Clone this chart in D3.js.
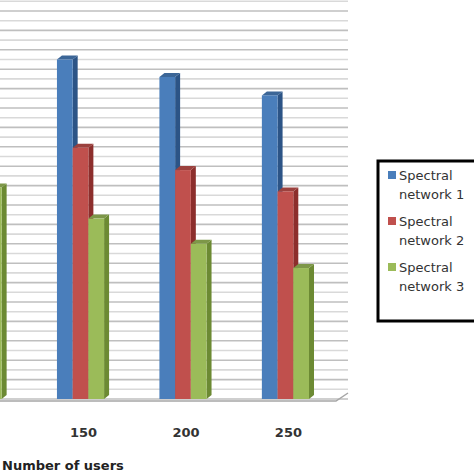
<!DOCTYPE html>
<html><head><meta charset="utf-8">
<script src="https://cdn.jsdelivr.net/npm/d3@7"></script>
<style>body{margin:0;background:#fff}svg{display:block}</style>
</head><body>
<script>
var users = ["100", "150", "200", "250"];
var seriesNames = ["Spectral network 1", "Spectral network 2", "Spectral network 3"];
var blue = [37.0, 35.0, 33.2, 31.3];
var red = [28.0, 25.9, 23.6, 21.4];
var green = [21.8, 18.6, 16.0, 13.5];
var colors = ["#4a7ebb", "#c0504d", "#9bbb59"];
var sides = ["#2c5486", "#8c2e2c", "#6c8a33"];

var svg = d3.select("body").append("svg").attr("width", 474).attr("height", 474);

var base = 399, depth = 5;
var y = d3.scaleLinear().domain([0, 41]).range([base, base - 41 * 9.7]);
var x = d3.scaleBand().domain(users).range([-45.5, 309]).paddingInner(0.54).paddingOuter(0);
var xs = d3.scaleBand().domain([0, 1, 2]).range([0, x.bandwidth()]);

// grid
svg.append("g").selectAll("line").data(d3.range(0, 42)).enter().append("line")
  .attr("x1", 0).attr("x2", 348)
  .attr("y1", function(d){return y(d)}).attr("y2", function(d){return y(d)})
  .attr("stroke", function(d){return d % 2 ? "#d9d9d9" : "#bfbfbf"}).attr("stroke-width", 1.6);
svg.append("path").attr("d", "M0," + (base+2) + "L336," + (base+2) + "L348," + (base-6))
  .attr("fill", "none").attr("stroke", "#a6a6a6").attr("stroke-width", 1.5);

var data = [blue, red, green];
var g = svg.append("g");
data.forEach(function(vals, s){
  vals.forEach(function(v, i){
    var x0 = x(users[i]) + xs(s), w = xs.bandwidth(), yt = y(v);
    g.append("path").attr("fill", sides[s])
      .attr("d", "M" + (x0+w) + "," + yt + "L" + (x0+w+depth) + "," + (yt-4) + "L" + (x0+w+depth) + "," + (base-4) + "L" + (x0+w) + "," + base + "Z");
    g.append("path").attr("fill", d3.color(colors[s]).darker(0.6))
      .attr("d", "M" + x0 + "," + yt + "L" + (x0+depth) + "," + (yt-4) + "L" + (x0+w+depth) + "," + (yt-4) + "L" + (x0+w) + "," + yt + "Z");
    g.append("rect").attr("x", x0).attr("y", yt).attr("width", w).attr("height", base - yt).attr("fill", colors[s]);
  });
});

svg.append("g").selectAll("text").data(users.filter(function(d){return x(d) > 0})).enter().append("text")
  .attr("x", function(d){return x(d) + x.bandwidth()/2 + 3}).attr("y", 437)
  .attr("text-anchor", "middle").attr("font-family", "DejaVu Sans").attr("font-size", 13)
  .attr("font-weight", "bold").attr("fill", "#333").text(function(d){return d});
svg.append("text").attr("x", 2).attr("y", 470).attr("font-family", "DejaVu Sans")
  .attr("font-size", 13).attr("font-weight", "bold").attr("fill", "#222").text("Number of users");

// legend
svg.append("rect").attr("x", 378).attr("y", 161).attr("width", 110).attr("height", 160)
  .attr("fill", "#fff").attr("stroke", "#000").attr("stroke-width", 3);
var lg = svg.append("g").selectAll("g").data(seriesNames).enter().append("g")
  .attr("transform", function(d, i){return "translate(388," + (171 + i * 46) + ")"});
lg.append("rect").attr("width", 8).attr("height", 8).attr("fill", function(d, i){return colors[i]});
lg.append("text").attr("x", 11).attr("y", 9).attr("font-family", "DejaVu Sans").attr("font-size", 13)
  .attr("fill", "#333").text("Spectral");
lg.append("text").attr("x", 11).attr("y", 28).attr("font-family", "DejaVu Sans").attr("font-size", 13)
  .attr("fill", "#333").text(function(d){return d.replace("Spectral ", "")});
</script>
</body></html>
